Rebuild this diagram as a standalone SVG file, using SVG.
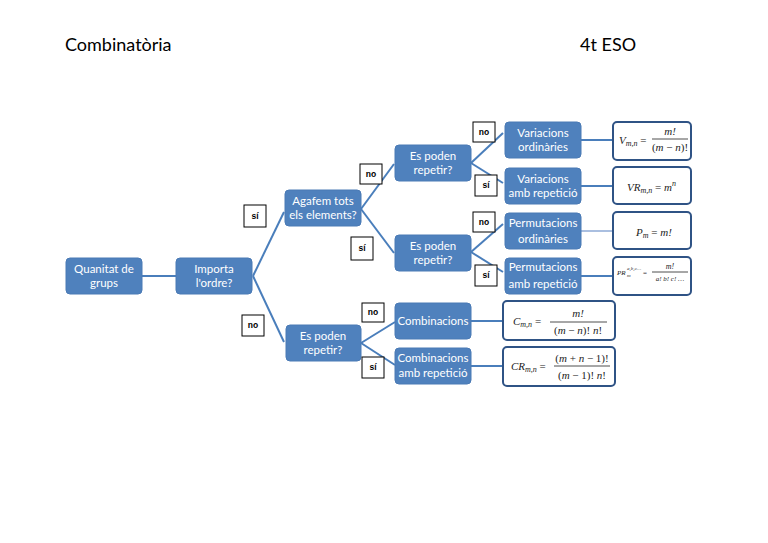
<svg xmlns="http://www.w3.org/2000/svg" width="768" height="543" viewBox="0 0 768 543">
<style>
.n rect{fill:#4f81bd;stroke:#4a7ab5;stroke-width:1}
.n text{fill:#fff;font-family:Lato,"Open Sans",sans-serif;font-size:11.5px;text-anchor:middle}
.f rect{fill:#fff;stroke:#2f5385;stroke-width:2}
.f text{font-family:"Liberation Serif",serif;font-style:italic;font-size:11px;fill:#222}
.f .c{text-anchor:middle}
.f .up{font-style:normal}
.f line{stroke:#222;stroke-width:0.8}
.l rect{fill:#fff;stroke:#000;stroke-width:1}
.l text{font-family:"Liberation Sans",Arial,sans-serif;font-weight:bold;font-size:8.5px;text-anchor:middle;fill:#000}
#connectors line{stroke:#4a7ebb;stroke-width:2;fill:none}
.t{font-family:Lato,"Open Sans",sans-serif;font-size:18px;fill:#000}
</style>
<rect width="768" height="543" fill="#fff"/>
<text class="t" x="65" y="51">Combinatòria</text>
<text class="t" x="580" y="51">4t ESO</text>

<g id="connectors">
<line x1="142" y1="276" x2="176" y2="276"/>
<line x1="253" y1="276" x2="284" y2="212"/>
<line x1="253" y1="276" x2="284" y2="342"/>
<line x1="361" y1="209" x2="394" y2="164"/>
<line x1="361" y1="209" x2="394" y2="253"/>
<line x1="471" y1="163" x2="503" y2="133"/>
<line x1="471" y1="163" x2="503" y2="183"/>
<line x1="471" y1="252" x2="503" y2="224"/>
<line x1="471" y1="252" x2="503" y2="272"/>
<line x1="361" y1="343" x2="395" y2="322"/>
<line x1="361" y1="343" x2="395" y2="365"/>
<line x1="581" y1="140" x2="613" y2="140"/>
<line x1="581" y1="186" x2="613" y2="186"/>
<line x1="581" y1="231" x2="613" y2="231" style="stroke:#8eaad6;stroke-width:1.5"/>
<line x1="581" y1="276" x2="613" y2="276"/>
<line x1="471" y1="321" x2="503" y2="321"/>
<line x1="471" y1="366" x2="503" y2="366"/>
</g>

<g id="n-quanitat" class="n"><rect x="66" y="258" width="76" height="36" rx="4"/><text x="104" y="273">Quanitat de</text><text x="104" y="287">grups</text></g>
<g id="n-importa" class="n"><rect x="176" y="258" width="76" height="36" rx="4"/><text x="214" y="273">Importa</text><text x="214" y="287">l'ordre?</text></g>
<g id="n-agafem" class="n"><rect x="285" y="190" width="76" height="36" rx="4"/><text x="323" y="205">Agafem tots</text><text x="323" y="219">els elements?</text></g>
<g id="n-repetir1" class="n"><rect x="395" y="145" width="76" height="36" rx="4"/><text x="433" y="160">Es poden</text><text x="433" y="174">repetir?</text></g>
<g id="n-repetir2" class="n"><rect x="395" y="235" width="76" height="36" rx="4"/><text x="433" y="250">Es poden</text><text x="433" y="264">repetir?</text></g>
<g id="n-repetir3" class="n"><rect x="286" y="325" width="75" height="36" rx="4"/><text x="323" y="340">Es poden</text><text x="323" y="354">repetir?</text></g>
<g id="n-var" class="n"><rect x="505" y="122" width="76" height="36" rx="4"/><text x="543" y="137">Variacions</text><text x="543" y="151">ordinàries</text></g>
<g id="n-varrep" class="n"><rect x="505" y="168" width="76" height="36" rx="4"/><text x="543" y="183">Variacions</text><text x="543" y="197">amb repetició</text></g>
<g id="n-perm" class="n"><rect x="505" y="213" width="76" height="36" rx="4"/><text x="543" y="227">Permutacions</text><text x="543" y="243">ordinàries</text></g>
<g id="n-permrep" class="n"><rect x="505" y="258" width="76" height="36" rx="4"/><text x="543" y="271">Permutacions</text><text x="543" y="288">amb repetició</text></g>
<g id="n-comb" class="n"><rect x="395" y="303" width="76" height="36" rx="4"/><text x="433" y="325">Combinacions</text></g>
<g id="n-combrep" class="n"><rect x="395" y="348" width="76" height="36" rx="4"/><text x="433" y="362">Combinacions</text><text x="433" y="377">amb repetició</text></g>

<g id="f-v" class="f"><rect x="613" y="122" width="78" height="38" rx="4"/>
<text x="619" y="144">V<tspan font-size="8" dy="2">m,n</tspan><tspan dy="-2" font-style="normal"> =</tspan></text>
<text class="c" x="670" y="135">m!</text><line x1="652" y1="139" x2="688" y2="139"/><text class="c up" x="670" y="151">(<tspan font-style="italic">m</tspan> − <tspan font-style="italic">n</tspan>)!</text></g>
<g id="f-vr" class="f"><rect x="613" y="167" width="78" height="37" rx="4"/>
<text x="627" y="191">VR<tspan font-size="8" dy="2">m,n</tspan><tspan dy="-2" font-style="normal"> = </tspan>m<tspan font-size="8" dy="-5">n</tspan></text></g>
<g id="f-p" class="f"><rect x="613" y="212" width="78" height="37" rx="4"/>
<text x="636" y="236">P<tspan font-size="8" dy="2">m</tspan><tspan dy="-2" font-style="normal"> = </tspan>m!</text></g>
<g id="f-pr" class="f"><rect x="613" y="257" width="78" height="38" rx="4"/>
<text x="617" y="275" style="font-size:7px">PR</text>
<text x="627" y="277" style="font-size:5px">m</text>
<text x="627" y="270" style="font-size:5px">a,b,c…</text>
<text x="643" y="275" style="font-size:7px;font-style:normal">=</text>
<text class="c" x="670" y="269" style="font-size:8px">m!</text><line x1="652" y1="272" x2="688" y2="272"/><text class="c" x="670" y="281" style="font-size:7px">a! b! c! …</text></g>
<g id="f-c" class="f"><rect x="503" y="301" width="112" height="39" rx="4"/>
<text x="513" y="325">C<tspan font-size="8" dy="2">m,n</tspan><tspan dy="-2" font-style="normal"> =</tspan></text>
<text class="c" x="578" y="317">m!</text><line x1="550" y1="322" x2="607" y2="322"/><text class="c up" x="578" y="334">(<tspan font-style="italic">m</tspan> − <tspan font-style="italic">n</tspan>)! <tspan font-style="italic">n</tspan>!</text></g>
<g id="f-cr" class="f"><rect x="503" y="347" width="112" height="39" rx="4"/>
<text x="511" y="370">CR<tspan font-size="8" dy="2">m,n</tspan><tspan dy="-2" font-style="normal"> =</tspan></text>
<text class="c up" x="582" y="362">(<tspan font-style="italic">m</tspan> + <tspan font-style="italic">n</tspan> − 1)!</text><line x1="554" y1="366" x2="610" y2="366"/><text class="c up" x="582" y="379">(<tspan font-style="italic">m</tspan> − 1)! <tspan font-style="italic">n</tspan>!</text></g>

<g id="l1" class="l"><rect x="244" y="205" width="22" height="22"/><text x="255" y="219">sí</text></g>
<g id="l2" class="l"><rect x="360" y="164" width="22" height="20"/><text x="371" y="177">no</text></g>
<g id="l3" class="l"><rect x="351" y="237" width="22" height="23"/><text x="362" y="251">sí</text></g>
<g id="l4" class="l"><rect x="473" y="122" width="22" height="20"/><text x="484" y="135">no</text></g>
<g id="l5" class="l"><rect x="475" y="175" width="22" height="21"/><text x="486" y="188">sí</text></g>
<g id="l6" class="l"><rect x="473" y="212" width="22" height="20"/><text x="484" y="225">no</text></g>
<g id="l7" class="l"><rect x="475" y="265" width="22" height="21"/><text x="486" y="278">sí</text></g>
<g id="l8" class="l"><rect x="242" y="315" width="22" height="21"/><text x="253" y="328">no</text></g>
<g id="l9" class="l"><rect x="362" y="303" width="22" height="19"/><text x="373" y="315">no</text></g>
<g id="l10" class="l"><rect x="362" y="357" width="22" height="21"/><text x="373" y="370">sí</text></g>
</svg>
